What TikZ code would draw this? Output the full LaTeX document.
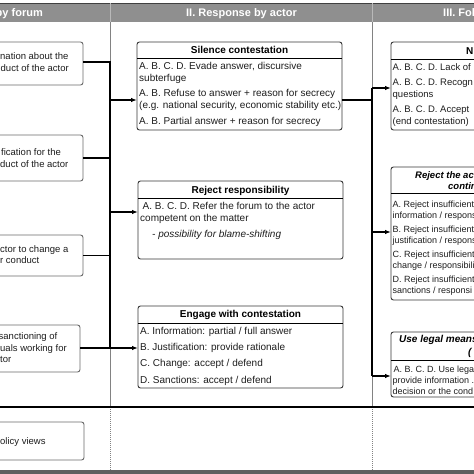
\documentclass[tikz,border=0pt]{standalone}
\usepackage{fontspec}
\setmainfont{Liberation Sans}
\usetikzlibrary{arrows.meta}
\definecolor{hdr}{RGB}{143,143,143}
\definecolor{hdrsep}{RGB}{185,185,185}
\definecolor{boxline}{RGB}{55,55,55}
\definecolor{lboxline}{RGB}{105,105,105}
\definecolor{divider}{RGB}{130,130,130}
\definecolor{txtc}{RGB}{30,30,30}
\definecolor{band}{RGB}{95,95,95}
\begin{document}
\begin{tikzpicture}[x=1pt,y=-1pt,
  lbox/.style={draw=lboxline, line width=0.9pt, rounded corners=2.5pt, fill=white, anchor=north west, inner sep=0pt, outer sep=0pt},
  mbox/.style={draw=boxline, line width=0.9pt, rounded corners=2.5pt, fill=white, anchor=north west, inner sep=0pt, outer sep=0pt},
  ltxt/.style={anchor=base west, inner sep=0pt, text=txtc, font=\fontsize{9.5}{11}\selectfont},
  mtxt/.style={anchor=base west, inner sep=0pt, text=txtc, font=\fontsize{10}{12}\selectfont},
  rtxt/.style={anchor=base west, inner sep=0pt, text=txtc, font=\fontsize{9.5}{11}\selectfont},
  rstxt/.style={anchor=base west, inner sep=0pt, text=txtc, font=\fontsize{9}{11}\selectfont},
  ttl/.style={anchor=base, inner sep=0pt, text=black, font=\fontsize{10}{12}\selectfont\bfseries},
  rttl/.style={anchor=base west, inner sep=0pt, text=black, font=\fontsize{9.5}{11}\selectfont\bfseries\itshape},
  htxt/.style={inner sep=0pt, text=white, font=\fontsize{11}{13}\selectfont\bfseries},
  sepline/.style={line width=0.8pt, black},
  bus/.style={line width=1.2pt, black},
  arr/.style={bus, -{Latex[length=6pt,width=4.5pt]}}]
\useasboundingbox (0,0) rectangle (474,474);
\begin{scope}
\clip (0,0) rectangle (474,474);
\fill[white] (0,0) rectangle (474,474);
% header band
\fill[hdr] (0,3) rectangle (474,22);
\draw[line width=1pt, black!75] (0,3) -- (474,3);
\draw[hdrsep, line width=0.8pt] (110,3) -- (110,22);
\draw[hdrsep, line width=0.8pt] (372,3) -- (372,22);
\node[htxt, anchor=base east] (h1) at (43,16.5) {by forum};
\node[htxt, anchor=base] (h2) at (241.5,16.5) {II. Response by actor};
\node[htxt, anchor=base west] (h3) at (443,16.5) {III. Fol};
% column dividers
\draw[divider, line width=0.6pt] (110,22) -- (110,407);
\draw[divider, line width=0.6pt] (372,22) -- (372,407);
\draw[divider, line width=0.6pt, dash pattern=on 1pt off 1pt] (110,407) -- (110,470);
\draw[divider, line width=0.6pt, dash pattern=on 1pt off 1pt] (372,407) -- (372,470);
% row separator and bottom band
\draw[line width=1.2pt, black] (0,407) -- (474,407);
\fill[band] (0,470) rectangle (474,474);

% left column boxes
\node[lbox, minimum width=95pt, minimum height=43pt] (f1) at (-12,42) {};
\node[lbox, minimum width=95pt, minimum height=46pt] (f2) at (-12,135) {};
\node[lbox, minimum width=95pt, minimum height=41pt] (f3) at (-12,235) {};
\node[lbox, minimum width=92pt, minimum height=47pt] (f4) at (-12,325) {};
\node[lbox, minimum width=96pt, minimum height=38pt] (f5) at (-12,422) {};
\node[ltxt] (t11) at (0,59) {nation about the};
\node[ltxt] (t12) at (0.5,71) {duct of the actor};
\node[ltxt] (t21) at (1,155) {fication for the};
\node[ltxt] (t22) at (0,167) {duct of the actor};
\node[ltxt] (t31) at (0,252) {ctor to change a};
\node[ltxt] (t32) at (0,263.5) {r conduct};
\node[ltxt] (t41) at (-1.5,339) {sanctioning of};
\node[ltxt] (t42) at (0,351) {uals working for};
\node[ltxt] (t43) at (0,362.5) {tor};
\node[ltxt] (t51) at (0,444) {olicy views};

% middle column boxes
\node[mbox, minimum width=205pt, minimum height=88pt] (sil) at (137,42) {};
\draw[sepline] (137,58) -- (342,58);
\node[ttl] (silt) at (239.5,53) {Silence contestation};
\node[mtxt] (s1) at (139,69.5) {A. B. C. D. Evade answer, discursive};
\node[mtxt] (s2) at (139,81.5) {subterfuge};
\node[mtxt] (s3) at (139,96.5) {A. B. Refuse to answer + reason for secrecy};
\node[mtxt] (s4) at (139,108.5) {(e.g. national security, economic stability etc.)};
\node[mtxt] (s5) at (139,124.5) {A. B. Partial answer + reason for secrecy};

\node[mbox, minimum width=205pt, minimum height=78pt] (rr) at (138,181) {};
\draw[sepline] (138,198) -- (343,198);
\node[ttl] (rrt) at (240.5,193) {Reject responsibility};
\node[mtxt] (r1) at (142.5,209) {A. B. C. D. Refer the forum to the actor};
\node[mtxt] (r2) at (140,221) {competent on the matter};
\node[mtxt, font=\fontsize{10}{12}\selectfont\itshape] (r3) at (152,237) {- possibility for blame-shifting};

\node[mbox, minimum width=205pt, minimum height=82pt] (eng) at (138,306) {};
\draw[sepline] (138,323) -- (343,323);
\node[ttl] (engt) at (240.5,317.5) {Engage with contestation};
\node[mtxt] (e1) at (140,334) {A. Information: partial / full answer};
\node[mtxt] (e2) at (140,350.5) {B. Justification: provide rationale};
\node[mtxt] (e3) at (140,366.5) {C. Change: accept / defend};
\node[mtxt] (e4) at (140,383) {D. Sanctions: accept / defend};

% right column boxes
\node[mbox, minimum width=95pt, minimum height=88pt] (nf) at (391,42) {};
\draw[sepline] (391,59) -- (480,59);
\node[rttl, font=\fontsize{10}{12}\selectfont\bfseries] (nft) at (466,54) {N};
\node[rtxt] (n1) at (392.5,70) {A. B. C. D. Lack of};
\node[rtxt] (n2) at (392.5,85) {A. B. C. D. Recogn};
\node[rtxt] (n3) at (392.5,97) {questions};
\node[rtxt] (n4) at (392.5,112) {A. B. C. D. Accept};
\node[rtxt] (n5) at (392.5,124) {(end contestation)};

\node[mbox, minimum width=95pt, minimum height=133pt] (ra) at (391,167) {};
\draw[sepline] (391,193) -- (480,193);
\node[rttl] (rat1) at (415,178) {Reject the ac};
\node[rttl] (rat2) at (448,189) {contin};
\node[rstxt] (a1) at (392.5,207.5) {A. Reject insufficient};
\node[rstxt] (a2) at (392.5,218.5) {information / respons};
\node[rstxt] (a3) at (392.5,232.5) {B. Reject insufficient};
\node[rstxt] (a4) at (392.5,243.5) {justification / respons};
\node[rstxt] (a5) at (392.5,257) {C. Reject insufficient};
\node[rstxt] (a6) at (392.5,268) {change / responsibili};
\node[rstxt] (a7) at (392.5,282) {D. Reject insufficient};
\node[rstxt] (a8) at (392.5,293) {sanctions / responsi};

\node[mbox, minimum width=95pt, minimum height=65pt] (lg) at (391,332) {};
\draw[sepline] (391,360) -- (480,360);
\node[rttl, font=\fontsize{10}{12}\selectfont\bfseries\itshape] (lgt1) at (399,342) {Use legal means};
\node[rttl, font=\fontsize{10}{12}\selectfont\bfseries\itshape] (lgt2) at (468,355) {(};
\node[rstxt] (g1) at (393.5,372.5) {A. B. C. D. Use lega};
\node[rstxt] (g2) at (392.5,383.5) {provide information .};
\node[rstxt] (g3) at (392.5,394) {decision or the cond};

% left bus
\coordinate (Ltop) at (110,62);
\coordinate (Lsil) at (110,100);
\coordinate (Lrr) at (110,212);
\coordinate (Lbot) at (110,348);
\draw[bus] (f1.east |- Ltop) -- (Ltop) -- (Lbot);
\draw[bus] (f2.east) -- (f2.east -| Ltop);
\draw[bus] (f3.east) -- (f3.east -| Ltop);
\draw[bus] (f4.east |- Lbot) -- (Lbot);
\draw[arr] (Lsil) -- (Lsil -| sil.west);
\draw[arr] (Lrr) -- (Lrr -| rr.west);
\draw[arr] (Lbot) -- (Lbot -| eng.west);

% right bus
\coordinate (Rsil) at (372,100);
\coordinate (Rtop) at (372,88);
\coordinate (Rra) at (372,232);
\coordinate (Rbot) at (372,376);
\draw[bus] (sil.east |- Rsil) -- (Rsil);
\draw[bus] (Rtop) -- (Rbot);
\draw[arr] (Rtop) -- (Rtop -| nf.west);
\draw[arr] (Rra) -- (Rra -| ra.west);
\draw[arr] (Rbot) -- (Rbot -| lg.west);
\end{scope}
\end{tikzpicture}
\end{document}
